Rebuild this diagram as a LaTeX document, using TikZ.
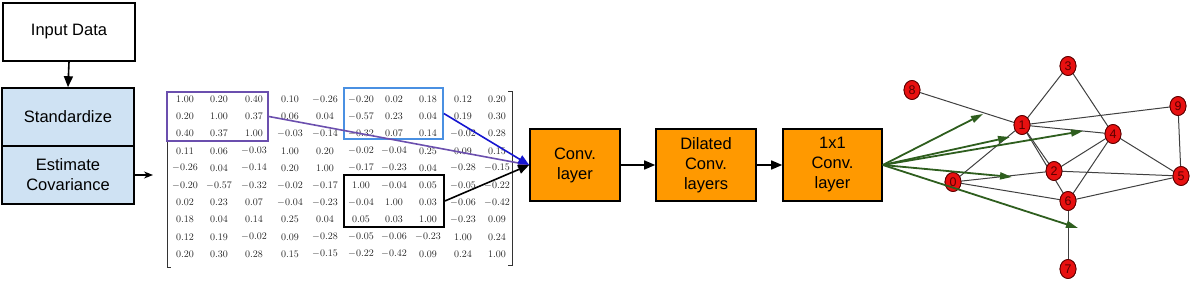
\documentclass[tikz,border=0pt]{standalone}
\usepackage{fontspec}
\newfontfamily\arial{Liberation Sans}
\usetikzlibrary{arrows.meta,shapes.geometric}
\definecolor{boxblue}{HTML}{CFE2F3}
\definecolor{orng}{HTML}{FF9900}
\definecolor{purp}{HTML}{6B4FAE}
\definecolor{lblue}{HTML}{4A90E2}
\definecolor{dblue}{HTML}{1515D0}
\definecolor{gr}{HTML}{2E5E1E}
\definecolor{nred}{HTML}{E81010}
\definecolor{ndark}{HTML}{5A0000}
\begin{document}
\begin{tikzpicture}[x=1pt,y=-1pt,
  flow/.style={draw=black,line width=1.6pt},
  txt/.style={font=\arial\fontsize{16.5}{20}\selectfont,align=center},
  whitebox/.style={flow,txt,fill=white,minimum width=132pt,minimum height=58pt,inner sep=0pt},
  bluebox/.style={flow,txt,fill=boxblue,minimum width=132pt,minimum height=58pt,inner sep=0pt},
  orangebox/.style={flow,txt,fill=orng,minimum height=72pt,inner sep=0pt},
  arr/.style={line width=1.6pt,-{Triangle[length=11pt,width=9pt]}},
  garr/.style={gr,line width=1.8pt,-{Triangle[length=12pt,width=7pt]}},
  ent/.style={font=\fontsize{10.2}{11}\selectfont,text=black!85,inner sep=0pt},
  hbox/.style={line width=1.7pt,minimum width=#1,inner sep=0pt},
  gnode/.style={ellipse,draw=ndark,fill=nred,line width=0.8pt,minimum width=16pt,minimum height=19pt,inner sep=0pt,font=\arial\fontsize{12.5}{12}\selectfont,text=ndark},
  gedge/.style={draw=black!75,line width=1pt}
]
\useasboundingbox (0,0) rectangle (1193,283);

% left boxes
\node[whitebox] (input) at (69,32) {Input Data};
\node[bluebox] (stand) at (68,117) {Standardize};
\node[bluebox] (est) at (68,175) {Estimate\\Covariance};
\coordinate (estout) at (153,175);
\draw[arr] (input.south) -- (stand.north);
\draw[line width=1.2pt,-{Stealth[length=9pt,width=7pt]}] (est.east) -- (estout);

% matrix
\foreach \r/\vals in {1/{1.00,0.20,0.40,0.10,-0.26,-0.20,0.02,0.18,0.12,0.20},
2/{0.20,1.00,0.37,0.06,0.04,-0.57,0.23,0.04,0.19,0.30},
3/{0.40,0.37,1.00,-0.03,-0.14,-0.32,0.07,0.14,-0.02,0.28},
4/{0.11,0.06,-0.03,1.00,0.20,-0.02,-0.04,0.25,0.09,0.15},
5/{-0.26,0.04,-0.14,0.20,1.00,-0.17,-0.23,0.04,-0.28,-0.15},
6/{-0.20,-0.57,-0.32,-0.02,-0.17,1.00,-0.04,0.05,-0.05,-0.22},
7/{0.02,0.23,0.07,-0.04,-0.23,-0.04,1.00,0.03,-0.06,-0.42},
8/{0.18,0.04,0.14,0.25,0.04,0.05,0.03,1.00,-0.23,0.09},
9/{0.12,0.19,-0.02,0.09,-0.28,-0.05,-0.06,-0.23,1.00,0.24},
10/{0.20,0.30,0.28,0.15,-0.15,-0.22,-0.42,0.09,0.24,1.00}}{
  \foreach \v [count=\c] in \vals {
    \pgfmathsetmacro{\xx}{{185,219,254,290,325,361,394,428,463,497}[\c-1]}
    \node[ent] (m-\r-\c) at (\xx,{99.3+17.2*(\r-1)}) {$\v$};
  }
}
% brackets
\draw[black!80,line width=0.7pt] (171,91) -- (167,91) -- (167,267) -- (171,267);
\draw[black!80,line width=0.7pt] (508,91) -- (512,91) -- (512,265) -- (508,265);

% highlight boxes
\node[hbox=101pt,draw=purp,minimum height=49pt] (pbox) at (217.5,116.5) {};
\node[hbox=99pt,draw=lblue,minimum height=51pt] (bbox) at (393.5,113.5) {};
\node[hbox=100pt,draw=black,minimum height=52pt] (kbox) at (394,201) {};

% orange boxes
\node[orangebox,minimum width=90pt] (conv) at (575,165) {Conv.\\layer};
\node[orangebox,minimum width=100pt] (dil) at (706,165) {Dilated\\Conv.\\layers};
\node[orangebox,minimum width=99pt] (one) at (832.5,165) {1x1\\Conv.\\layer};

\draw[arr,purp] (pbox.east) -- (conv.west);
\draw[arr,dblue] (bbox.east) -- (conv.west);
\draw[arr,black] (kbox.east) -- (conv.west);
\draw[arr] (conv.east) -- (dil.west);
\draw[arr] (dil.east) -- (one.west);

% graph
\node[gnode] (g0) at (953,182) {0};
\node[gnode] (g1) at (1022,125) {1};
\node[gnode] (g2) at (1054,171) {2};
\node[gnode] (g3) at (1068,66) {3};
\node[gnode] (g4) at (1113,134) {4};
\node[gnode] (g5) at (1181,176) {5};
\node[gnode] (g6) at (1068,201) {6};
\node[gnode] (g7) at (1068,269) {7};
\node[gnode] (g8) at (912,90) {8};
\node[gnode] (g9) at (1178,106) {9};
\foreach \a/\b in {0/1,0/2,0/6,1/2,1/3,1/4,1/6,1/8,1/9,2/4,2/5,3/4,4/5,4/6,5/6,5/9,6/7}
  \draw[gedge] (g\a.center) -- (g\b.center);
% redraw nodes on top of the edges
\foreach \n in {0,...,9}
  \node[gnode] at (g\n.center) {\n};

\coordinate (t1) at (983,114);
\coordinate (t2) at (1010,137);
\coordinate (t3) at (1083,131);
\coordinate (t4) at (1012,177);
\coordinate (t5) at (1078,228);
\foreach \t in {t1,t2,t3,t4,t5}
  \draw[garr] (one.east) -- (\t);
\end{tikzpicture}
\end{document}
